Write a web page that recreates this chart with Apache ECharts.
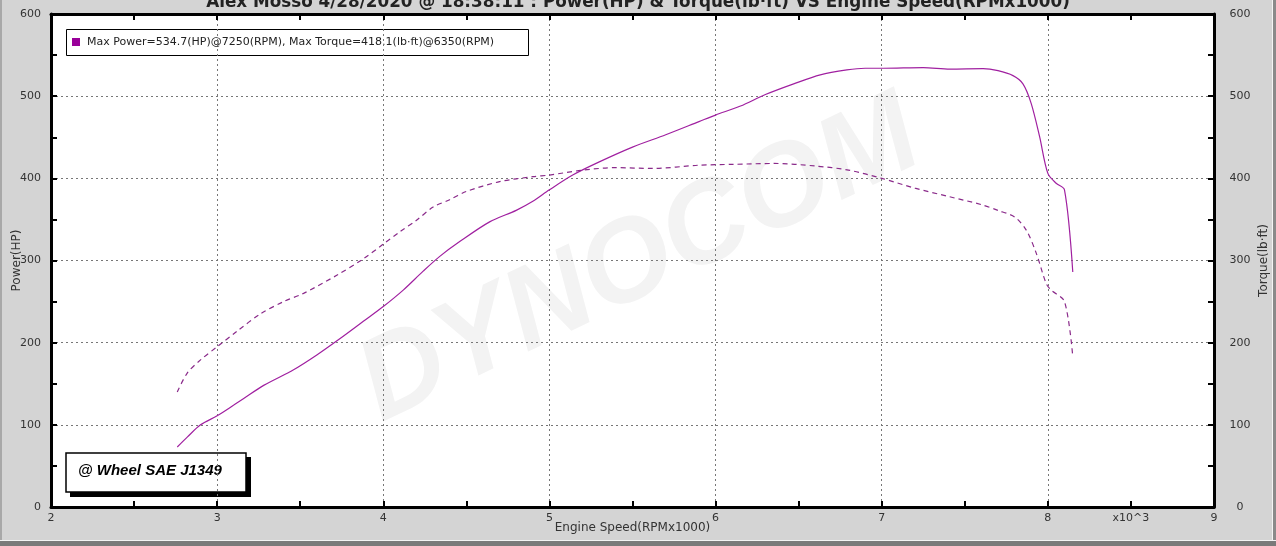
<!DOCTYPE html>
<html><head><meta charset="utf-8">
<script src="https://cdn.jsdelivr.net/npm/echarts@6/dist/echarts.min.js"></script>
<style>html,body{margin:0;padding:0;background:#d4d4d4;overflow:hidden}#c{width:1276px;height:546px}</style>
</head><body><div id="c"></div>
<script>
const titleText = 'Alex Mosso 4/28/2020 @ 18:38:11 : Power(HP) & Torque(lb·ft) VS Engine Speed(RPMx1000)';
const legendText = 'Max Power=534.7(HP)@7250(RPM), Max Torque=418.1(lb·ft)@6350(RPM)';
const stampText = '@ Wheel SAE J1349';
const xUnitText = 'x10^3';
const watermarkText = 'DYNOCOM';
const xAxisName = 'Engine Speed(RPMx1000)';
const leftAxisName = 'Power(HP)';
const rightAxisName = 'Torque(lb·ft)';

const powerRpm = [2.76,2.82,2.90,3.00,3.10,3.16,3.28,3.46,3.60,3.74,3.88,4.00,4.12,4.24,4.34,4.46,4.64,4.80,4.90,5.00,5.14,5.30,5.50,5.70,5.90,6.00,6.15,6.30,6.47,6.63,6.79,6.90,7.01,7.25,7.41,7.61,7.70,7.79,7.85,7.90,7.95,8.00,8.05,8.10,8.15];
const power    = [73,85,100,111,124,132,148,167,185,205,226,244,264,287,305,323,347,361,372,386,404,420,438,453,469,477,488,502,515,526,532,534,534,534.7,533,533.5,531,525,515,491,451,406,394,386,286];

const torqueRpm = [2.76,2.82,2.90,3.00,3.12,3.26,3.40,3.52,3.72,3.88,4.00,4.10,4.20,4.30,4.40,4.50,4.70,4.90,5.00,5.20,5.40,5.62,5.90,6.10,6.35,6.60,6.80,7.00,7.20,7.40,7.60,7.70,7.80,7.87,7.93,7.99,8.02,8.10,8.15];
const torque    = [140,163,179,195,214,235,250,260,282,302,320,335,349,365,374,384,396,402,404,410,413,412,416,417,418.1,415,410,400,388,378,368,361,353,337,309,272,264,250,183];

const xMin = 2, xMax = 9, xStep = 1;
const yMin = 0, yMax = 600, yStep = 100;

const FONT = 'DejaVu Sans';
const chart = echarts.init(document.getElementById('c'), null, {renderer: 'canvas'});

function frameAxis(extra) {
  return Object.assign({
    type: 'value', z: 3,
    axisLine: {show: true, onZero: false, lineStyle: {color: '#000', width: 3}},
    axisTick: {show: true, inside: true, length: 6, lineStyle: {color: '#000', width: 2}},
    minorTick: {show: true, splitNumber: 2, length: 6, lineStyle: {color: '#000', width: 2}},
    axisLabel: {show: false},
    splitLine: {show: false},
    nameMoveOverlap: false
  }, extra);
}
const gridLine = {show: true, lineStyle: {color: '#777', width: 1, type: [2, 3]}};
const labelStyle = {color: '#333', fontSize: 11, fontFamily: FONT};

const option = {
  animation: false,
  backgroundColor: '#d4d4d4',
  title: {
    text: titleText, left: 'center', top: -11,
    textStyle: {fontSize: 16.8, fontWeight: 'bold', fontFamily: FONT, color: '#222'}
  },
  grid: {left: 51, right: 62, top: 14, bottom: 39, show: true, backgroundColor: '#fff', borderWidth: 0,
         containLabel: false, outerBoundsMode: 'none'},
  xAxis: [
    frameAxis({min: xMin, max: xMax, interval: xStep, position: 'bottom',
      axisLabel: Object.assign({show: true, margin: 6, showMinLabel: true, showMaxLabel: true}, labelStyle),
      splitLine: gridLine,
      name: xAxisName, nameLocation: 'middle', nameGap: 15,
      nameTextStyle: {color: '#333', fontSize: 12, fontFamily: FONT}}),
    frameAxis({min: xMin, max: xMax, interval: xStep, position: 'top'})
  ],
  yAxis: [
    frameAxis({min: yMin, max: yMax, interval: yStep, position: 'left',
      axisLabel: Object.assign({show: true, margin: 10}, labelStyle),
      splitLine: gridLine,
      name: leftAxisName, nameLocation: 'middle', nameGap: 28, nameRotate: 90,
      nameTextStyle: {color: '#333', fontSize: 12, fontFamily: FONT}}),
    frameAxis({min: yMin, max: yMax, interval: yStep, position: 'right',
      axisLabel: Object.assign({show: true, margin: 26, align: 'center'}, labelStyle),
      name: rightAxisName, nameLocation: 'middle', nameGap: 44, nameRotate: 90,
      nameTextStyle: {color: '#333', fontSize: 12, fontFamily: FONT}})
  ],
  series: [
    {name: 'Power', type: 'line', xAxisIndex: 0, yAxisIndex: 0, z: 4,
     data: powerRpm.map((r, i) => [r, power[i]]),
     showSymbol: false, smooth: 0.3,
     lineStyle: {color: '#a020a0', width: 1.2}},
    {name: 'Torque', type: 'line', xAxisIndex: 0, yAxisIndex: 1, z: 4,
     data: torqueRpm.map((r, i) => [r, torque[i]]),
     showSymbol: false, smooth: 0.3,
     lineStyle: {color: '#8a2a8a', width: 1.2, type: [5, 4]}}
  ]
};
chart.setOption(option);

const unitPos = chart.convertToPixel({xAxisIndex: 0}, 8.5);
chart.setOption({
  graphic: [
    {type: 'rect', z: 0, silent: true, shape: {x: 0, y: 0, width: 2, height: 546}, style: {fill: '#a8a8a8'}},
    {type: 'rect', z: 0, silent: true, shape: {x: 1272, y: 0, width: 1, height: 541}, style: {fill: '#f4f4f4'}},
    {type: 'rect', z: 0, silent: true, shape: {x: 1273, y: 0, width: 3, height: 546}, style: {fill: '#8a8a8a'}},
    {type: 'rect', z: 0, silent: true, shape: {x: 0, y: 540, width: 1276, height: 1}, style: {fill: '#f4f4f4'}},
    {type: 'rect', z: 0, silent: true, shape: {x: 0, y: 541, width: 1276, height: 5}, style: {fill: '#7a7a7a'}},
    {type: 'text', z: 1, silent: true, x: 640, y: 262, rotation: 0.45,
     style: {text: watermarkText, fill: '#f3f3f3', font: 'italic bold 116px "Liberation Sans"', align: 'center', verticalAlign: 'middle'}},
    {type: 'rect', z: 2, silent: true, shape: {x: 66.5, y: 29.5, width: 462, height: 26}, style: {fill: '#fff', stroke: '#000', lineWidth: 1}},
    {type: 'rect', z: 2, silent: true, shape: {x: 72, y: 38, width: 8, height: 8}, style: {fill: '#990099'}},
    {type: 'text', z: 2, silent: true, x: 87, y: 42,
     style: {text: legendText, fill: '#222', font: '11px "DejaVu Sans"', verticalAlign: 'middle'}},
    {type: 'rect', z: 2, silent: true, shape: {x: 70, y: 457, width: 181, height: 40}, style: {fill: '#000'}},
    {type: 'rect', z: 2, silent: true, shape: {x: 66, y: 453, width: 180, height: 39}, style: {fill: '#fff', stroke: '#000', lineWidth: 1.5}},
    {type: 'text', z: 2, silent: true, x: 78, y: 471,
     style: {text: stampText, fill: '#000', font: 'italic bold 15px "Liberation Sans"', verticalAlign: 'middle'}},
    {type: 'text', z: 3, silent: true, x: unitPos, y: 518,
     style: {text: xUnitText, fill: '#333', font: '11px "DejaVu Sans"', align: 'center', verticalAlign: 'middle'}}
  ]
});
</script></body></html>
